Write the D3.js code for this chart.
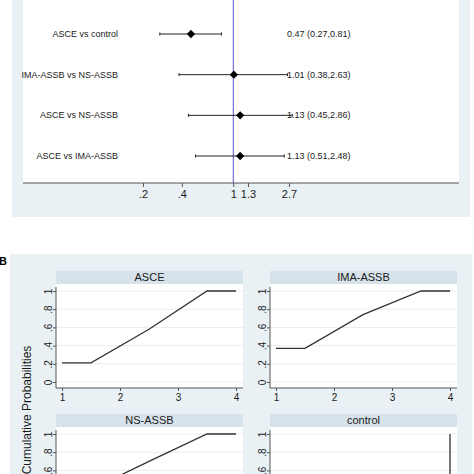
<!DOCTYPE html>
<html>
<head>
<meta charset="utf-8">
<script src="https://cdn.jsdelivr.net/npm/d3@7"></script>
<style>
  body { margin: 0; background: #fff; }
  svg { display: block; font-family: "Liberation Sans", Arial, sans-serif; }
</style>
</head>
<body>
<div id="chart"></div>
<script>
// panel A: forest plot
var comparisons = ["ASCE vs control", "IMA-ASSB vs NS-ASSB", "ASCE vs NS-ASSB", "ASCE vs IMA-ASSB"];
var orValues = [0.47, 1.01, 1.13, 1.13];
var ciLow = [0.27, 0.38, 0.45, 0.51];
var ciHigh = [0.81, 2.63, 2.86, 2.48];
var orTicks = [0.2, 0.4, 1, 1.3, 2.7];
var orTickLabels = [".2", ".4", "1", "1.3", "2.7"];

// panel B: cumulative probabilities
var groups = ["ASCE", "IMA-ASSB", "NS-ASSB", "control"];
var levelsX = [1, 1.5, 2.5, 3.5, 4];
var asceCum = [0.21, 0.21, 0.58, 1, 1];
var imaCum = [0.37, 0.37, 0.74, 1, 1];
var nsCum = [0.39, 0.39, 0.70, 1, 1];
var controlX = [1, 4, 4];
var controlCum = [0, 0, 1];
var xTicksB = [1, 2, 3, 4];
var yTicksB = [0, 0.2, 0.4, 0.6, 0.8, 1];
var yTickLabelsB = ["0", ".2", ".4", ".6", ".8", "1"];

var bg = "#e9f1f4", strip = "#d7e3ea", ink = "#1a1a1a";
var H = 474;

var svg = d3.select("#chart").append("svg")
  .attr("width", 474).attr("height", H);

// ---------- panel A ----------
svg.append("rect").attr("x", 12).attr("y", -5).attr("width", 458).attr("height", 222).attr("fill", bg);
svg.append("rect").attr("x", 23).attr("y", -5).attr("width", 436).attr("height", 188).attr("fill", "#fff");

var xA = d3.scaleLog().domain([0.2, 2.7]).range([143, 289]);
var yA = d3.scalePoint().domain(comparisons).range([34, 156]);

var axA = svg.append("g").attr("transform", "translate(0,183)")
  .call(d3.axisBottom(xA).tickValues(orTicks)
    .tickFormat(function(d, i) { return orTickLabels[i]; })
    .tickSize(4).tickSizeOuter(0));
axA.select(".domain").remove();
axA.selectAll(".tick line").attr("stroke", "#555");
axA.selectAll(".tick text").attr("font-size", 11).attr("fill", ink).attr("y", 7).attr("font-family", "Liberation Sans, Arial, sans-serif");
svg.append("line").attr("x1", 23).attr("x2", 459).attr("y1", 183).attr("y2", 183)
  .attr("stroke", "#555").attr("stroke-width", 1);

svg.append("line").attr("x1", xA(1)).attr("x2", xA(1)).attr("y1", -5).attr("y2", 183)
  .attr("stroke", "#5a55cc").attr("stroke-width", 1);

var rows = svg.append("g").selectAll("g").data(comparisons).enter().append("g");
rows.append("line")
  .attr("x1", function(d, i) { return xA(ciLow[i]); })
  .attr("x2", function(d, i) { return xA(ciHigh[i]); })
  .attr("y1", function(d) { return yA(d); })
  .attr("y2", function(d) { return yA(d); })
  .attr("stroke", "#222").attr("stroke-width", 1);
[ciLow, ciHigh].forEach(function(arr) {
  rows.append("line")
    .attr("x1", function(d, i) { return xA(arr[i]); })
    .attr("x2", function(d, i) { return xA(arr[i]); })
    .attr("y1", function(d) { return yA(d) - 1.5; })
    .attr("y2", function(d) { return yA(d) + 1.5; })
    .attr("stroke", "#222").attr("stroke-width", 1);
});
rows.append("path")
  .attr("d", d3.symbol().type(d3.symbolDiamond2).size(44))
  .attr("transform", function(d, i) { return "translate(" + xA(orValues[i]) + "," + yA(d) + ")"; })
  .attr("fill", "#000");
rows.append("text")
  .attr("x", 118).attr("y", function(d) { return yA(d); })
  .attr("dy", "0.35em").attr("text-anchor", "end")
  .attr("font-size", 9).attr("fill", ink)
  .text(function(d) { return d; });
rows.append("text")
  .attr("x", 287).attr("y", function(d) { return yA(d); })
  .attr("dy", "0.35em")
  .attr("font-size", 9).attr("fill", ink)
  .text(function(d, i) {
    return orValues[i].toFixed(2) + " (" + ciLow[i].toFixed(2) + "," + ciHigh[i].toFixed(2) + ")";
  });

// ---------- panel B ----------
svg.append("text").attr("x", -1).attr("y", 265).attr("font-size", 11)
  .attr("font-weight", "bold").attr("fill", "#000").text("B");
svg.append("rect").attr("x", 10).attr("y", 254).attr("width", 462).attr("height", 230).attr("fill", bg);

var facets = [
  { name: groups[0], xs: levelsX, ys: asceCum, left: 56, right: 243, top: 271 },
  { name: groups[1], xs: levelsX, ys: imaCum, left: 270, right: 457, top: 271 },
  { name: groups[2], xs: levelsX, ys: nsCum, left: 56, right: 243, top: 414 },
  { name: groups[3], xs: controlX, ys: controlCum, left: 270, right: 457, top: 414 }
];

facets.forEach(function(f) {
  var g = svg.append("g");
  var plotTop = f.top + 13, axisY = plotTop + 104;
  var x = d3.scaleLinear().domain([1, 4]).range([f.left + 6, f.right - 7]);
  var y = d3.scaleLinear().domain([0, 1]).range([axisY - 6, plotTop + 7]);
  // only ticks that land inside the window
  var yVis = yTicksB.filter(function(d) { return y(d) < H + 2; });

  g.append("rect").attr("x", f.left).attr("y", f.top).attr("width", f.right - f.left).attr("height", 13)
    .attr("fill", strip);
  g.append("text").attr("x", (f.left + f.right) / 2).attr("y", f.top + 6.5).attr("dy", "0.36em")
    .attr("text-anchor", "middle").attr("font-size", 11).attr("fill", ink).text(f.name);
  g.append("rect").attr("x", f.left).attr("y", plotTop).attr("width", f.right - f.left).attr("height", axisY - plotTop)
    .attr("fill", "#fff");

  g.selectAll(".grid").data(yVis).enter().append("line")
    .attr("x1", f.left).attr("x2", f.right)
    .attr("y1", function(d) { return y(d); }).attr("y2", function(d) { return y(d); })
    .attr("stroke", "#e6eef2").attr("stroke-width", 1);

  if (axisY < H) {
    var ax = g.append("g").attr("transform", "translate(0," + axisY + ")")
      .call(d3.axisBottom(x).tickValues(xTicksB).tickFormat(d3.format("d")).tickSize(3).tickSizeOuter(0));
    ax.select(".domain").remove();
    ax.selectAll(".tick line").attr("stroke", "#555");
    ax.selectAll(".tick text").attr("font-size", 10).attr("fill", ink).attr("y", 6).attr("font-family", "Liberation Sans, Arial, sans-serif");
    g.append("line").attr("x1", f.left).attr("x2", f.right).attr("y1", axisY).attr("y2", axisY)
      .attr("stroke", "#555");
  }

  var ay = g.append("g").attr("transform", "translate(" + f.left + ",0)")
    .call(d3.axisLeft(y).tickValues(yVis).tickFormat(function(d) { return yTickLabelsB[yTicksB.indexOf(d)]; })
      .tickSize(3).tickSizeOuter(0));
  ay.select(".domain").remove();
  ay.selectAll(".tick line").attr("stroke", "#555");
  ay.selectAll(".tick text").attr("font-size", 10).attr("fill", ink)
    .attr("font-family", "Liberation Sans, Arial, sans-serif")
    .attr("transform", "rotate(-90)").attr("x", 0).attr("y", -4).attr("dy", 0)
    .attr("text-anchor", "middle");
  g.append("line").attr("x1", f.left).attr("x2", f.left).attr("y1", plotTop + 3).attr("y2", axisY)
    .attr("stroke", "#555");

  var pts = f.xs.map(function(v, i) { return [v, f.ys[i]]; });
  g.append("path").datum(pts)
    .attr("d", d3.line().x(function(d) { return x(d[0]); }).y(function(d) { return y(d[1]); }))
    .attr("fill", "none").attr("stroke", "#333").attr("stroke-width", 1.3);
});

svg.append("text").attr("transform", "translate(31,410) rotate(-90)")
  .attr("text-anchor", "middle").attr("font-size", 12).attr("fill", ink)
  .text("Cumulative Probabilities");
</script>
</body>
</html>
